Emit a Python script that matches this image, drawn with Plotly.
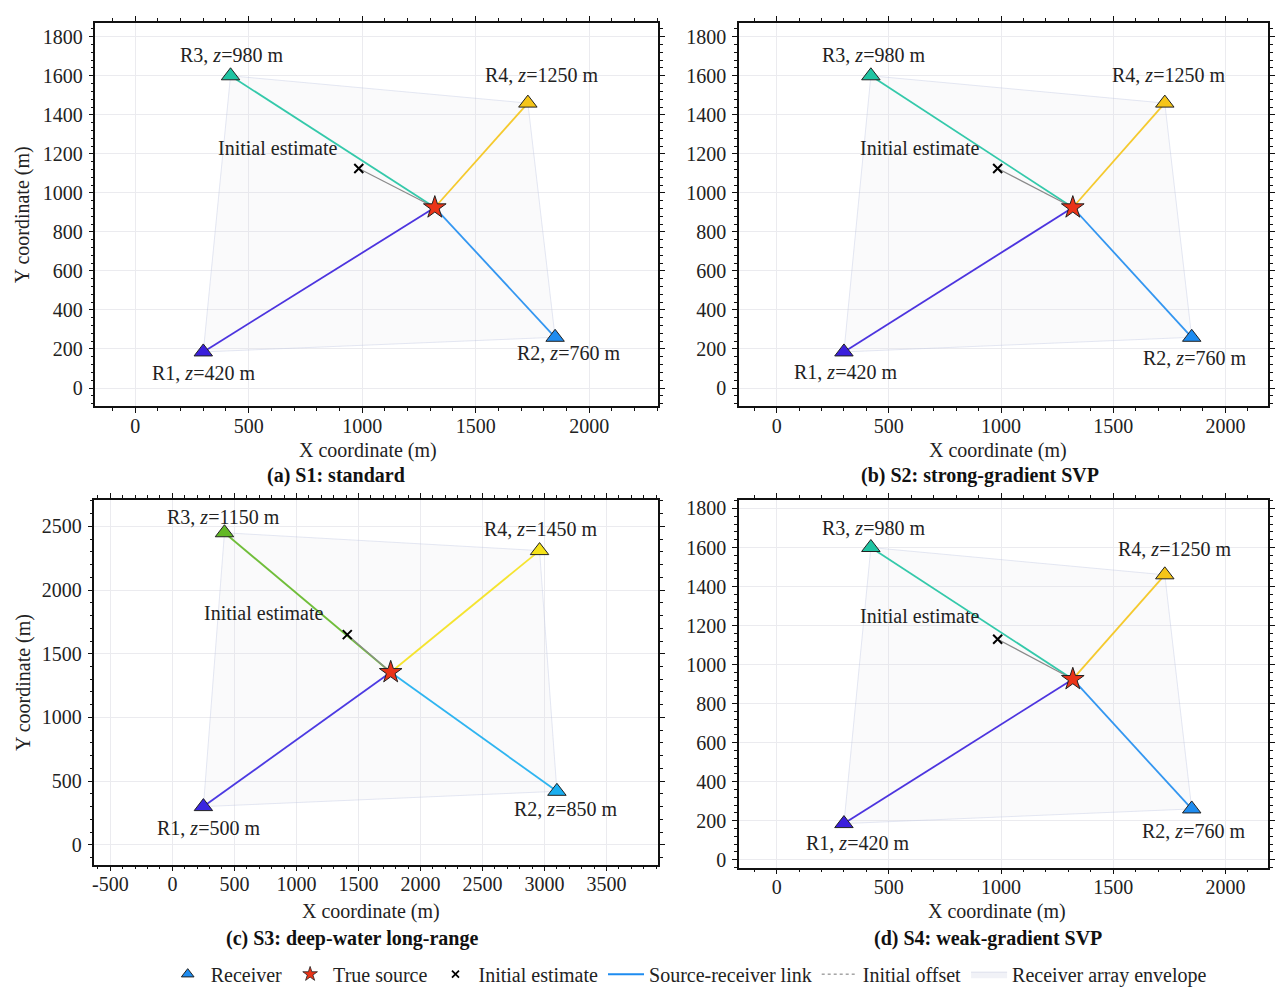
import plotly.graph_objects as go

# ---------------- data ----------------
panel_titles = ["(a) S1: standard", "(b) S2: strong-gradient SVP",
                "(c) S3: deep-water long-range", "(d) S4: weak-gradient SVP"]
receiver_names = ["R1", "R2", "R3", "R4"]

s1_rx_x = [300, 1850, 420, 1730]
s1_rx_y = [185, 260, 1600, 1460]
s1_depth = [420, 760, 980, 1250]

s2_rx_x = [300, 1850, 420, 1730]
s2_rx_y = [185, 260, 1600, 1460]
s2_depth = [420, 760, 980, 1250]

s3_rx_x = [250, 3100, 420, 2960]
s3_rx_y = [300, 420, 2450, 2310]
s3_depth = [500, 850, 1150, 1450]

s4_rx_x = [300, 1850, 420, 1730]
s4_rx_y = [185, 260, 1600, 1460]
s4_depth = [420, 760, 980, 1250]

source_x = [1320, 1320, 1760, 1320]
source_y = [925, 925, 1355, 925]
init_x = [985, 985, 1410, 985]
init_y = [1125, 1125, 1650, 1130]

s3_xtick_vals = [-500, 0, 500, 1000, 1500, 2000, 2500, 3000, 3500]

# ---------------- style ----------------
FONT = "Liberation Serif, Times New Roman, serif"
FS = 20
colors_std = ["#3a1fdc", "#1e8cf0", "#1fc4a2", "#f5c518"]
colors_deep = ["#3a26e0", "#1aaef0", "#62b826", "#f5e21a"]

panels = [
    dict(rx=s1_rx_x, ry=s1_rx_y, dep=s1_depth, col=colors_std,
         xd=[94, 660], yd=[21, 406], xr=[-175, 2305], yr=[-92, 1871],
         xdt=500, xmin=100, ydt=200, ymin=40,
         offs=[(0, -21), (13, -16), (1, 21), (14, 28)], ioff=(-19, 20),
         xt=368, yt_y=451, tt=336, tt_y=476, ytitle=True),
    dict(rx=s2_rx_x, ry=s2_rx_y, dep=s2_depth, col=colors_std,
         xd=[741, 1273], yd=[21, 406], xr=[-168, 2190], yr=[-92, 1871],
         xdt=500, xmin=100, ydt=200, ymin=40,
         offs=[(2, -20), (3, -21), (3, 21), (4, 28)], ioff=(-16, 20),
         xt=1002, yt_y=451, tt=983, tt_y=476, ytitle=False),
    dict(rx=s3_rx_x, ry=s3_rx_y, dep=s3_depth, col=colors_deep,
         xd=[93, 660], yd=[500, 867], xr=[-628, 3918], yr=[-156, 2711],
         xdt=500, xmin=100, ydt=500, ymin=100,
         offs=[(5, -21), (9, -18), (-1, 16), (1, 22)], ioff=(-21, 22),
         xt=371, yt_y=914, tt=352, tt_y=941, ytitle=True),
    dict(rx=s4_rx_x, ry=s4_rx_y, dep=s4_depth, col=colors_std,
         xd=[741, 1273], yd=[500, 870], xr=[-168, 2190], yr=[-41, 1846],
         xdt=500, xmin=100, ydt=200, ymin=40,
         offs=[(14, -19), (2, -22), (3, 20), (10, 26)], ioff=(-16, 23),
         xt=1000, yt_y=914, tt=991, tt_y=941, ytitle=False),
]

W, H = 1275, 1006
fig = go.Figure()
layout = dict(width=W, height=H, margin=dict(l=0, r=0, t=0, b=0),
              paper_bgcolor="white", plot_bgcolor="white",
              font=dict(family=FONT, size=FS, color="#222"),
              showlegend=True)
annotations = []

for i, p in enumerate(panels):
    k = "" if i == 0 else str(i + 1)
    xa, ya = "x" + k, "y" + k
    rx, ry = p["rx"], p["ry"]
    # envelope (hull order R1, R2, R4, R3)
    order = [0, 1, 3, 2, 0]
    fig.add_trace(go.Scatter(
        x=[rx[j] for j in order], y=[ry[j] for j in order],
        mode="lines", fill="toself", fillcolor="rgba(215,215,222,0.13)",
        line=dict(color="rgba(190,198,225,0.4)", width=1),
        xaxis=xa, yaxis=ya, showlegend=False, hoverinfo="skip"))
    # source-receiver links
    for j in range(4):
        fig.add_trace(go.Scatter(
            x=[source_x[i], rx[j]], y=[source_y[i], ry[j]], mode="lines",
            line=dict(color=p["col"][j], width=1.8), opacity=0.9,
            xaxis=xa, yaxis=ya, showlegend=False, hoverinfo="skip"))
    # initial offset
    fig.add_trace(go.Scatter(
        x=[init_x[i], source_x[i]], y=[init_y[i], source_y[i]], mode="lines",
        line=dict(color="#8a8a8a", width=1.2),
        xaxis=xa, yaxis=ya, showlegend=False, hoverinfo="skip"))
    # receivers
    fig.add_trace(go.Scatter(
        x=rx, y=ry, mode="markers",
        marker=dict(symbol="triangle-up", size=16, color=p["col"],
                    line=dict(color="#222", width=1)),
        xaxis=xa, yaxis=ya, showlegend=False))
    # initial estimate
    fig.add_trace(go.Scatter(
        x=[init_x[i]], y=[init_y[i]], mode="markers",
        marker=dict(symbol="x-thin", size=9, color="black",
                    line=dict(color="black", width=2)),
        xaxis=xa, yaxis=ya, showlegend=False))
    # true source
    fig.add_trace(go.Scatter(
        x=[source_x[i]], y=[source_y[i]], mode="markers",
        marker=dict(symbol="star", size=17, color="#ea3418",
                    line=dict(color="#222", width=1)),
        xaxis=xa, yaxis=ya, showlegend=False))

    # receiver labels
    for j in range(4):
        dx, dy = p["offs"][j]
        annotations.append(dict(
            x=rx[j], y=ry[j], xref=xa, yref=ya, showarrow=False,
            text=f"{receiver_names[j]}, <i>z</i>={p['dep'][j]} m",
            xshift=dx, yshift=dy, xanchor="center", yanchor="middle",
            font=dict(family=FONT, size=FS, color="#222")))
    annotations.append(dict(
        x=init_x[i], y=init_y[i], xref=xa, yref=ya, showarrow=False,
        text="Initial estimate", xshift=p["ioff"][0], yshift=p["ioff"][1],
        xanchor="right", yanchor="middle",
        font=dict(family=FONT, size=FS, color="#222")))
    # axis titles and panel titles
    annotations.append(dict(
        x=p["xt"] / W, y=1 - p["yt_y"] / H, xref="paper", yref="paper",
        showarrow=False, text="X coordinate (m)", xanchor="center",
        yanchor="middle", font=dict(family=FONT, size=FS, color="#222")))
    annotations.append(dict(
        x=p["tt"] / W, y=1 - p["tt_y"] / H, xref="paper", yref="paper",
        showarrow=False, text=f"<b>{panel_titles[i]}</b>", xanchor="center",
        yanchor="middle", font=dict(family=FONT, size=FS, color="#111")))
    if p["ytitle"]:
        yc = (p["yd"][0] + p["yd"][1]) / 2
        annotations.append(dict(
            x=21 / W, y=1 - yc / H, xref="paper", yref="paper",
            showarrow=False, text="Y coordinate (m)", textangle=-90,
            xanchor="center", yanchor="middle",
            font=dict(family=FONT, size=FS, color="#222")))

    common = dict(showline=True, linecolor="#111", linewidth=1.5, mirror="ticks",
                  ticks="outside", ticklen=5, tickwidth=1.2, tickcolor="#111",
                  showgrid=True, gridcolor="#ebebef", gridwidth=1, zeroline=False,
                  tickfont=dict(family=FONT, size=FS, color="#222"))
    xaxis = dict(
        common, domain=[p["xd"][0] / W, p["xd"][1] / W], range=p["xr"],
        dtick=p["xdt"], tick0=0, anchor=ya, ticklabelstandoff=-4,
        minor=dict(dtick=p["xmin"], tick0=0, ticks="outside", ticklen=3,
                   tickcolor="#111", showgrid=False))
    if i == 2:
        xaxis["tickmode"] = "array"
        xaxis["tickvals"] = s3_xtick_vals
        xaxis["ticktext"] = [str(v) for v in s3_xtick_vals]
    layout["xaxis" + k] = xaxis
    layout["yaxis" + k] = dict(
        common, domain=[1 - p["yd"][1] / H, 1 - p["yd"][0] / H], range=p["yr"],
        dtick=p["ydt"], tick0=0, anchor=xa, ticklabelstandoff=2,
        minor=dict(dtick=p["ymin"], tick0=0, ticks="outside", ticklen=3,
                   tickcolor="#111", showgrid=False))

# legend-only traces
fig.add_trace(go.Scatter(x=[None], y=[None], mode="markers", name="Receiver",
                         marker=dict(symbol="triangle-up", size=11, color="#1e8cf0",
                                     line=dict(color="#222", width=1))))
fig.add_trace(go.Scatter(x=[None], y=[None], mode="markers", name="True source",
                         marker=dict(symbol="star", size=11, color="#ea3418",
                                     line=dict(color="#222", width=0.8))))
fig.add_trace(go.Scatter(x=[None], y=[None], mode="markers", name="Initial estimate",
                         marker=dict(symbol="x-thin", size=7, color="black",
                                     line=dict(color="black", width=1.8))))
fig.add_trace(go.Scatter(x=[None], y=[None], mode="lines", name="Source-receiver link",
                         line=dict(color="#1e8cf0", width=2)))
fig.add_trace(go.Scatter(x=[None], y=[None], mode="lines", name="Initial offset",
                         line=dict(color="#777", width=1, dash="dot")))
fig.add_trace(go.Scatter(x=[None], y=[None], mode="lines", name="Receiver array envelope",
                         fill="toself", fillcolor="rgba(232,234,242,0.6)",
                         line=dict(color="rgba(200,205,225,0.6)", width=1)))

layout["legend"] = dict(orientation="h", x=690 / W, xanchor="center",
                        y=1 - 977 / H, yanchor="middle",
                        font=dict(family=FONT, size=FS, color="#222"),
                        bgcolor="rgba(0,0,0,0)", itemwidth=36)
layout["annotations"] = annotations
fig.update_layout(**layout)
fig.write_html("out.html")
